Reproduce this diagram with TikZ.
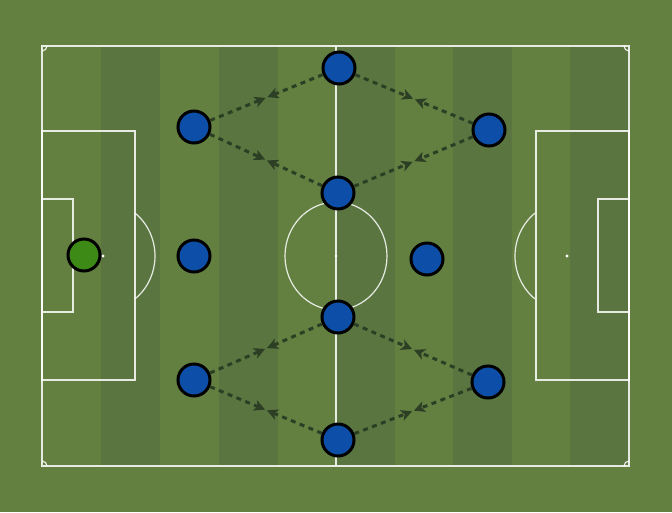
\documentclass[tikz,border=0pt]{standalone}
\usetikzlibrary{calc,arrows.meta}
\definecolor{grass}{RGB}{99,128,65}
\definecolor{grassdark}{RGB}{90,117,64}
\definecolor{shirt}{RGB}{13,79,168}
\definecolor{keeper}{RGB}{62,138,23}
\definecolor{runline}{RGB}{44,62,36}
\begin{document}
\begin{tikzpicture}[x=1pt,y=-1pt]

    % Styles
    \tikzstyle{player} = [circle, minimum size=32pt, inner sep=0pt, draw=black, line width=3pt, fill=shirt]
    \tikzstyle{goalie} = [player, fill=keeper]
    \tikzstyle{pitchline} = [draw=white, opacity=0.85, line width=1.2pt]
    \tikzstyle{run} = [draw=runline, line width=3pt, dash pattern=on 5pt off 4.5pt, ->, >={Stealth[length=11pt,width=11pt,inset=3pt]}, shorten >=1pt]

    % Terrain
    \fill[grass] (0,0) rectangle (672,512);
    \useasboundingbox (0,0) rectangle (672,512);
    \foreach \x in {101,219,336,453,570}
        \fill[grassdark] (\x,46) rectangle ++(59,420);

    % Lignes
    \draw[pitchline] (42,46) rectangle (629,466);
    \draw[pitchline] (336,46) -- (336,466);
    \draw[pitchline] (336,256) ellipse [x radius=51, y radius=54];
    \fill[white] (336,256) circle (1.3);
    \draw[pitchline] (42,131) rectangle (135,380);
    \draw[pitchline] (42,199) rectangle (73,312);
    \fill[white] (103,256) circle (1.6);
    \draw[pitchline] (103,256) ++(-52:52 and 54.5) arc[start angle=-52, end angle=52, x radius=52, y radius=54.5];
    \draw[pitchline] (536,131) rectangle (629,380);
    \draw[pitchline] (598,199) rectangle (629,312);
    \fill[white] (567,256) circle (1.6);
    \draw[pitchline] (567,256) ++(128:52 and 54.5) arc[start angle=128, end angle=232, x radius=52, y radius=54.5];
    \draw[pitchline] (47,46) arc[start angle=0, end angle=90, radius=5];
    \draw[pitchline] (624,46) arc[start angle=180, end angle=90, radius=5];
    \draw[pitchline] (47,466) arc[start angle=0, end angle=-90, radius=5];
    \draw[pitchline] (624,466) arc[start angle=180, end angle=270, radius=5];

    % Joueurs
    \node (gk) [goalie] at (84,255) {};
    \node (lt) [player] at (194,127) {};
    \node (lc) [player] at (194,256) {};
    \node (lb) [player] at (194,380) {};
    \node (ct) [player] at (339,68) {};
    \node (cu) [player] at (338,193) {};
    \node (cd) [player] at (338,317) {};
    \node (cb) [player] at (338,440) {};
    \node (rc) [player] at (427,259) {};
    \node (rt) [player] at (489,130) {};
    \node (rb) [player] at (488,382) {};

    % Points de rencontre
    \coordinate (m1) at ($(lt)!0.5!(ct)$);
    \coordinate (m2) at ($(lt)!0.5!(cu)$);
    \coordinate (m3) at ($(ct)!0.5!(rt)$);
    \coordinate (m4) at ($(cu)!0.5!(rt)$);
    \coordinate (m5) at ($(lb)!0.5!(cd)$);
    \coordinate (m6) at ($(lb)!0.5!(cb)$);
    \coordinate (m7) at ($(cd)!0.5!(rb)$);
    \coordinate (m8) at ($(cb)!0.5!(rb)$);

    % Fleches
    \draw [run] (lt) -- (m1);
    \draw [run] (ct) -- (m1);
    \draw [run] (lt) -- (m2);
    \draw [run] (cu) -- (m2);
    \draw [run] (ct) -- (m3);
    \draw [run] (rt) -- (m3);
    \draw [run] (cu) -- (m4);
    \draw [run] (rt) -- (m4);
    \draw [run] (lb) -- (m5);
    \draw [run] (cd) -- (m5);
    \draw [run] (lb) -- (m6);
    \draw [run] (cb) -- (m6);
    \draw [run] (cd) -- (m7);
    \draw [run] (rb) -- (m7);
    \draw [run] (cb) -- (m8);
    \draw [run] (rb) -- (m8);

\end{tikzpicture}
\end{document}
